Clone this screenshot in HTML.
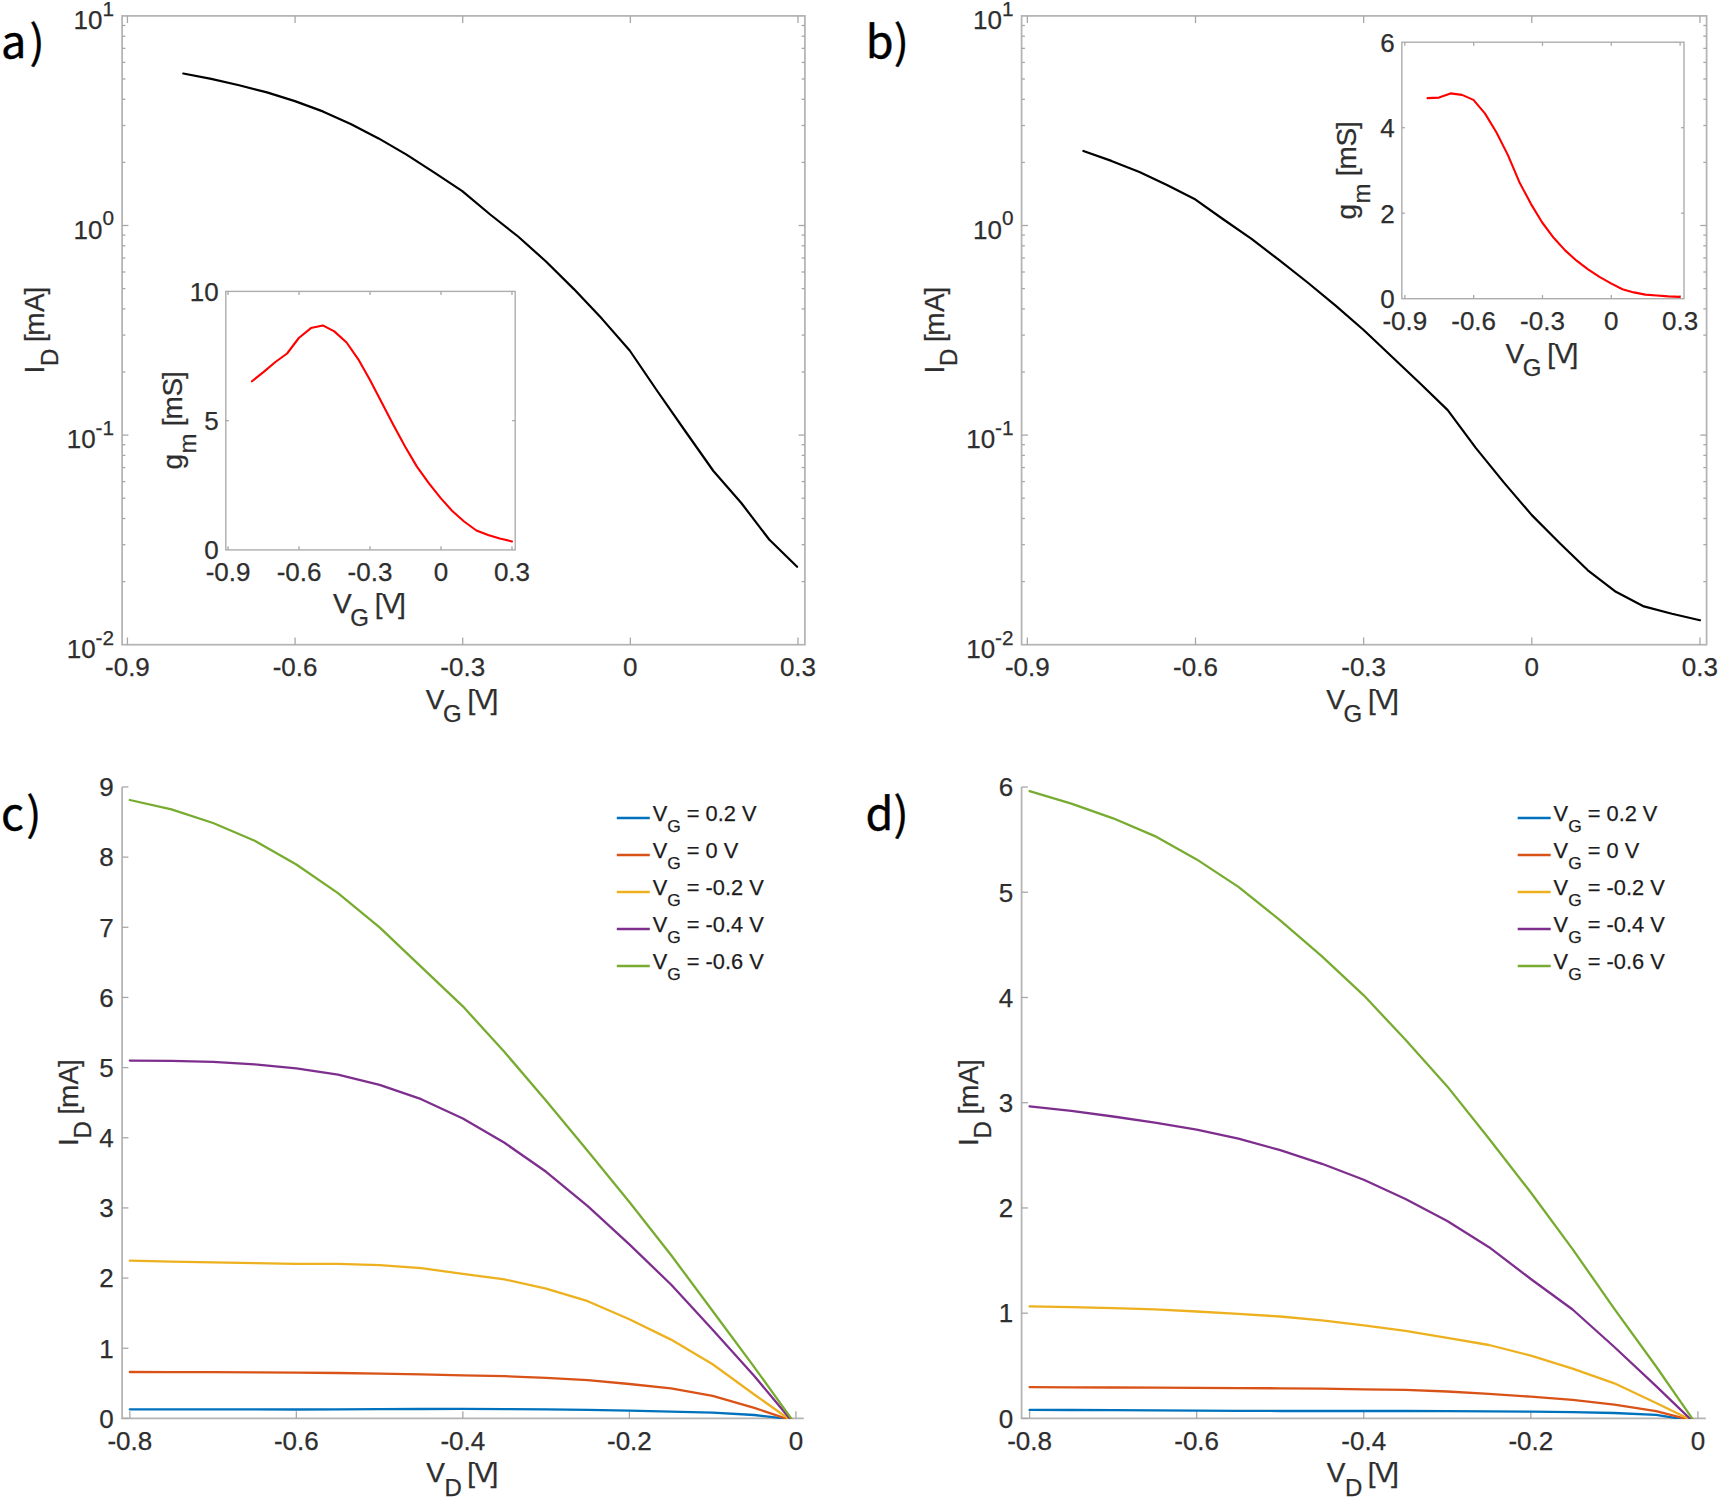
<!DOCTYPE html>
<html lang="en"><head><meta charset="utf-8"><title>Figure</title>
<style>html,body{margin:0;padding:0;background:#fff}svg{display:block}</style></head>
<body>
<svg width="1720" height="1498" viewBox="0 0 1720 1498" font-family='"Liberation Sans", sans-serif'>
<style>text{stroke:#2e2e2e;stroke-width:0.25px}text.pl{stroke:#000;stroke-width:0.4px}</style>
<rect width="1720" height="1498" fill="#fff"/>
<rect x="122.1" y="15.9" width="682.8" height="628.8" fill="none" stroke="#b4b4b4" stroke-width="1.75"/>
<line x1="122.1" y1="162.4" x2="125.4" y2="162.4" stroke="#a8a8a8" stroke-width="1.3"/>
<line x1="804.9" y1="162.4" x2="801.6" y2="162.4" stroke="#a8a8a8" stroke-width="1.3"/>
<line x1="122.1" y1="125.5" x2="125.4" y2="125.5" stroke="#a8a8a8" stroke-width="1.3"/>
<line x1="804.9" y1="125.5" x2="801.6" y2="125.5" stroke="#a8a8a8" stroke-width="1.3"/>
<line x1="122.1" y1="99.31" x2="125.4" y2="99.31" stroke="#a8a8a8" stroke-width="1.3"/>
<line x1="804.9" y1="99.31" x2="801.6" y2="99.31" stroke="#a8a8a8" stroke-width="1.3"/>
<line x1="122.1" y1="79" x2="125.4" y2="79" stroke="#a8a8a8" stroke-width="1.3"/>
<line x1="804.9" y1="79" x2="801.6" y2="79" stroke="#a8a8a8" stroke-width="1.3"/>
<line x1="122.1" y1="62.4" x2="125.4" y2="62.4" stroke="#a8a8a8" stroke-width="1.3"/>
<line x1="804.9" y1="62.4" x2="801.6" y2="62.4" stroke="#a8a8a8" stroke-width="1.3"/>
<line x1="122.1" y1="48.37" x2="125.4" y2="48.37" stroke="#a8a8a8" stroke-width="1.3"/>
<line x1="804.9" y1="48.37" x2="801.6" y2="48.37" stroke="#a8a8a8" stroke-width="1.3"/>
<line x1="122.1" y1="36.21" x2="125.4" y2="36.21" stroke="#a8a8a8" stroke-width="1.3"/>
<line x1="804.9" y1="36.21" x2="801.6" y2="36.21" stroke="#a8a8a8" stroke-width="1.3"/>
<line x1="122.1" y1="25.49" x2="125.4" y2="25.49" stroke="#a8a8a8" stroke-width="1.3"/>
<line x1="804.9" y1="25.49" x2="801.6" y2="25.49" stroke="#a8a8a8" stroke-width="1.3"/>
<line x1="122.1" y1="225.5" x2="128.4" y2="225.5" stroke="#a8a8a8" stroke-width="1.3"/>
<line x1="804.9" y1="225.5" x2="798.6" y2="225.5" stroke="#a8a8a8" stroke-width="1.3"/>
<line x1="122.1" y1="372" x2="125.4" y2="372" stroke="#a8a8a8" stroke-width="1.3"/>
<line x1="804.9" y1="372" x2="801.6" y2="372" stroke="#a8a8a8" stroke-width="1.3"/>
<line x1="122.1" y1="335.1" x2="125.4" y2="335.1" stroke="#a8a8a8" stroke-width="1.3"/>
<line x1="804.9" y1="335.1" x2="801.6" y2="335.1" stroke="#a8a8a8" stroke-width="1.3"/>
<line x1="122.1" y1="308.91" x2="125.4" y2="308.91" stroke="#a8a8a8" stroke-width="1.3"/>
<line x1="804.9" y1="308.91" x2="801.6" y2="308.91" stroke="#a8a8a8" stroke-width="1.3"/>
<line x1="122.1" y1="288.6" x2="125.4" y2="288.6" stroke="#a8a8a8" stroke-width="1.3"/>
<line x1="804.9" y1="288.6" x2="801.6" y2="288.6" stroke="#a8a8a8" stroke-width="1.3"/>
<line x1="122.1" y1="272" x2="125.4" y2="272" stroke="#a8a8a8" stroke-width="1.3"/>
<line x1="804.9" y1="272" x2="801.6" y2="272" stroke="#a8a8a8" stroke-width="1.3"/>
<line x1="122.1" y1="257.97" x2="125.4" y2="257.97" stroke="#a8a8a8" stroke-width="1.3"/>
<line x1="804.9" y1="257.97" x2="801.6" y2="257.97" stroke="#a8a8a8" stroke-width="1.3"/>
<line x1="122.1" y1="245.81" x2="125.4" y2="245.81" stroke="#a8a8a8" stroke-width="1.3"/>
<line x1="804.9" y1="245.81" x2="801.6" y2="245.81" stroke="#a8a8a8" stroke-width="1.3"/>
<line x1="122.1" y1="235.09" x2="125.4" y2="235.09" stroke="#a8a8a8" stroke-width="1.3"/>
<line x1="804.9" y1="235.09" x2="801.6" y2="235.09" stroke="#a8a8a8" stroke-width="1.3"/>
<line x1="122.1" y1="435.1" x2="128.4" y2="435.1" stroke="#a8a8a8" stroke-width="1.3"/>
<line x1="804.9" y1="435.1" x2="798.6" y2="435.1" stroke="#a8a8a8" stroke-width="1.3"/>
<line x1="122.1" y1="581.6" x2="125.4" y2="581.6" stroke="#a8a8a8" stroke-width="1.3"/>
<line x1="804.9" y1="581.6" x2="801.6" y2="581.6" stroke="#a8a8a8" stroke-width="1.3"/>
<line x1="122.1" y1="544.7" x2="125.4" y2="544.7" stroke="#a8a8a8" stroke-width="1.3"/>
<line x1="804.9" y1="544.7" x2="801.6" y2="544.7" stroke="#a8a8a8" stroke-width="1.3"/>
<line x1="122.1" y1="518.51" x2="125.4" y2="518.51" stroke="#a8a8a8" stroke-width="1.3"/>
<line x1="804.9" y1="518.51" x2="801.6" y2="518.51" stroke="#a8a8a8" stroke-width="1.3"/>
<line x1="122.1" y1="498.2" x2="125.4" y2="498.2" stroke="#a8a8a8" stroke-width="1.3"/>
<line x1="804.9" y1="498.2" x2="801.6" y2="498.2" stroke="#a8a8a8" stroke-width="1.3"/>
<line x1="122.1" y1="481.6" x2="125.4" y2="481.6" stroke="#a8a8a8" stroke-width="1.3"/>
<line x1="804.9" y1="481.6" x2="801.6" y2="481.6" stroke="#a8a8a8" stroke-width="1.3"/>
<line x1="122.1" y1="467.57" x2="125.4" y2="467.57" stroke="#a8a8a8" stroke-width="1.3"/>
<line x1="804.9" y1="467.57" x2="801.6" y2="467.57" stroke="#a8a8a8" stroke-width="1.3"/>
<line x1="122.1" y1="455.41" x2="125.4" y2="455.41" stroke="#a8a8a8" stroke-width="1.3"/>
<line x1="804.9" y1="455.41" x2="801.6" y2="455.41" stroke="#a8a8a8" stroke-width="1.3"/>
<line x1="122.1" y1="444.69" x2="125.4" y2="444.69" stroke="#a8a8a8" stroke-width="1.3"/>
<line x1="804.9" y1="444.69" x2="801.6" y2="444.69" stroke="#a8a8a8" stroke-width="1.3"/>
<line x1="127.43" y1="644.7" x2="127.43" y2="637.5" stroke="#a8a8a8" stroke-width="1.3"/>
<line x1="127.43" y1="15.9" x2="127.43" y2="23.1" stroke="#a8a8a8" stroke-width="1.3"/>
<text x="127.43" y="676" font-size="26" text-anchor="middle" fill="#2e2e2e">-0.9</text>
<line x1="295.07" y1="644.7" x2="295.07" y2="637.5" stroke="#a8a8a8" stroke-width="1.3"/>
<line x1="295.07" y1="15.9" x2="295.07" y2="23.1" stroke="#a8a8a8" stroke-width="1.3"/>
<text x="295.07" y="676" font-size="26" text-anchor="middle" fill="#2e2e2e">-0.6</text>
<line x1="462.71" y1="644.7" x2="462.71" y2="637.5" stroke="#a8a8a8" stroke-width="1.3"/>
<line x1="462.71" y1="15.9" x2="462.71" y2="23.1" stroke="#a8a8a8" stroke-width="1.3"/>
<text x="462.71" y="676" font-size="26" text-anchor="middle" fill="#2e2e2e">-0.3</text>
<line x1="630.35" y1="644.7" x2="630.35" y2="637.5" stroke="#a8a8a8" stroke-width="1.3"/>
<line x1="630.35" y1="15.9" x2="630.35" y2="23.1" stroke="#a8a8a8" stroke-width="1.3"/>
<text x="630.35" y="676" font-size="26" text-anchor="middle" fill="#2e2e2e">0</text>
<line x1="797.99" y1="644.7" x2="797.99" y2="637.5" stroke="#a8a8a8" stroke-width="1.3"/>
<line x1="797.99" y1="15.9" x2="797.99" y2="23.1" stroke="#a8a8a8" stroke-width="1.3"/>
<text x="797.99" y="676" font-size="26" text-anchor="middle" fill="#2e2e2e">0.3</text>
<text x="102.53" y="29" font-size="26" text-anchor="end" fill="#2e2e2e">10</text>
<text x="102.53" y="15.8" font-size="20.8" text-anchor="start" fill="#2e2e2e">1</text>
<text x="102.53" y="238.6" font-size="26" text-anchor="end" fill="#2e2e2e">10</text>
<text x="102.53" y="225.4" font-size="20.8" text-anchor="start" fill="#2e2e2e">0</text>
<text x="95.6" y="448.2" font-size="26" text-anchor="end" fill="#2e2e2e">10</text>
<text x="95.6" y="435" font-size="20.8" text-anchor="start" fill="#2e2e2e">-1</text>
<text x="95.6" y="657.8" font-size="26" text-anchor="end" fill="#2e2e2e">10</text>
<text x="95.6" y="644.6" font-size="20.8" text-anchor="start" fill="#2e2e2e">-2</text>
<polyline fill="none" stroke="#000" stroke-width="2.2" stroke-linejoin="round" stroke-linecap="round" points="183.25,73.5 211.2,78.9 239.1,85.2 267,92.4 294.9,101.1 322.8,111.4 350.7,124 378.6,138.4 406.5,154.6 434.4,172.7 462.3,191.2 490.2,214.5 518.1,236.5 546,261.5 573.9,289.1 601.8,318.6 629.7,350.5 657.6,391.5 685.5,431.5 713.4,471 741.3,503 769.2,539.5 797.1,566.8"/>
<rect x="1021.6" y="15.9" width="685" height="628.8" fill="none" stroke="#b4b4b4" stroke-width="1.75"/>
<line x1="1021.6" y1="162.4" x2="1024.9" y2="162.4" stroke="#a8a8a8" stroke-width="1.3"/>
<line x1="1706.6" y1="162.4" x2="1703.3" y2="162.4" stroke="#a8a8a8" stroke-width="1.3"/>
<line x1="1021.6" y1="125.5" x2="1024.9" y2="125.5" stroke="#a8a8a8" stroke-width="1.3"/>
<line x1="1706.6" y1="125.5" x2="1703.3" y2="125.5" stroke="#a8a8a8" stroke-width="1.3"/>
<line x1="1021.6" y1="99.31" x2="1024.9" y2="99.31" stroke="#a8a8a8" stroke-width="1.3"/>
<line x1="1706.6" y1="99.31" x2="1703.3" y2="99.31" stroke="#a8a8a8" stroke-width="1.3"/>
<line x1="1021.6" y1="79" x2="1024.9" y2="79" stroke="#a8a8a8" stroke-width="1.3"/>
<line x1="1706.6" y1="79" x2="1703.3" y2="79" stroke="#a8a8a8" stroke-width="1.3"/>
<line x1="1021.6" y1="62.4" x2="1024.9" y2="62.4" stroke="#a8a8a8" stroke-width="1.3"/>
<line x1="1706.6" y1="62.4" x2="1703.3" y2="62.4" stroke="#a8a8a8" stroke-width="1.3"/>
<line x1="1021.6" y1="48.37" x2="1024.9" y2="48.37" stroke="#a8a8a8" stroke-width="1.3"/>
<line x1="1706.6" y1="48.37" x2="1703.3" y2="48.37" stroke="#a8a8a8" stroke-width="1.3"/>
<line x1="1021.6" y1="36.21" x2="1024.9" y2="36.21" stroke="#a8a8a8" stroke-width="1.3"/>
<line x1="1706.6" y1="36.21" x2="1703.3" y2="36.21" stroke="#a8a8a8" stroke-width="1.3"/>
<line x1="1021.6" y1="25.49" x2="1024.9" y2="25.49" stroke="#a8a8a8" stroke-width="1.3"/>
<line x1="1706.6" y1="25.49" x2="1703.3" y2="25.49" stroke="#a8a8a8" stroke-width="1.3"/>
<line x1="1021.6" y1="225.5" x2="1027.9" y2="225.5" stroke="#a8a8a8" stroke-width="1.3"/>
<line x1="1706.6" y1="225.5" x2="1700.3" y2="225.5" stroke="#a8a8a8" stroke-width="1.3"/>
<line x1="1021.6" y1="372" x2="1024.9" y2="372" stroke="#a8a8a8" stroke-width="1.3"/>
<line x1="1706.6" y1="372" x2="1703.3" y2="372" stroke="#a8a8a8" stroke-width="1.3"/>
<line x1="1021.6" y1="335.1" x2="1024.9" y2="335.1" stroke="#a8a8a8" stroke-width="1.3"/>
<line x1="1706.6" y1="335.1" x2="1703.3" y2="335.1" stroke="#a8a8a8" stroke-width="1.3"/>
<line x1="1021.6" y1="308.91" x2="1024.9" y2="308.91" stroke="#a8a8a8" stroke-width="1.3"/>
<line x1="1706.6" y1="308.91" x2="1703.3" y2="308.91" stroke="#a8a8a8" stroke-width="1.3"/>
<line x1="1021.6" y1="288.6" x2="1024.9" y2="288.6" stroke="#a8a8a8" stroke-width="1.3"/>
<line x1="1706.6" y1="288.6" x2="1703.3" y2="288.6" stroke="#a8a8a8" stroke-width="1.3"/>
<line x1="1021.6" y1="272" x2="1024.9" y2="272" stroke="#a8a8a8" stroke-width="1.3"/>
<line x1="1706.6" y1="272" x2="1703.3" y2="272" stroke="#a8a8a8" stroke-width="1.3"/>
<line x1="1021.6" y1="257.97" x2="1024.9" y2="257.97" stroke="#a8a8a8" stroke-width="1.3"/>
<line x1="1706.6" y1="257.97" x2="1703.3" y2="257.97" stroke="#a8a8a8" stroke-width="1.3"/>
<line x1="1021.6" y1="245.81" x2="1024.9" y2="245.81" stroke="#a8a8a8" stroke-width="1.3"/>
<line x1="1706.6" y1="245.81" x2="1703.3" y2="245.81" stroke="#a8a8a8" stroke-width="1.3"/>
<line x1="1021.6" y1="235.09" x2="1024.9" y2="235.09" stroke="#a8a8a8" stroke-width="1.3"/>
<line x1="1706.6" y1="235.09" x2="1703.3" y2="235.09" stroke="#a8a8a8" stroke-width="1.3"/>
<line x1="1021.6" y1="435.1" x2="1027.9" y2="435.1" stroke="#a8a8a8" stroke-width="1.3"/>
<line x1="1706.6" y1="435.1" x2="1700.3" y2="435.1" stroke="#a8a8a8" stroke-width="1.3"/>
<line x1="1021.6" y1="581.6" x2="1024.9" y2="581.6" stroke="#a8a8a8" stroke-width="1.3"/>
<line x1="1706.6" y1="581.6" x2="1703.3" y2="581.6" stroke="#a8a8a8" stroke-width="1.3"/>
<line x1="1021.6" y1="544.7" x2="1024.9" y2="544.7" stroke="#a8a8a8" stroke-width="1.3"/>
<line x1="1706.6" y1="544.7" x2="1703.3" y2="544.7" stroke="#a8a8a8" stroke-width="1.3"/>
<line x1="1021.6" y1="518.51" x2="1024.9" y2="518.51" stroke="#a8a8a8" stroke-width="1.3"/>
<line x1="1706.6" y1="518.51" x2="1703.3" y2="518.51" stroke="#a8a8a8" stroke-width="1.3"/>
<line x1="1021.6" y1="498.2" x2="1024.9" y2="498.2" stroke="#a8a8a8" stroke-width="1.3"/>
<line x1="1706.6" y1="498.2" x2="1703.3" y2="498.2" stroke="#a8a8a8" stroke-width="1.3"/>
<line x1="1021.6" y1="481.6" x2="1024.9" y2="481.6" stroke="#a8a8a8" stroke-width="1.3"/>
<line x1="1706.6" y1="481.6" x2="1703.3" y2="481.6" stroke="#a8a8a8" stroke-width="1.3"/>
<line x1="1021.6" y1="467.57" x2="1024.9" y2="467.57" stroke="#a8a8a8" stroke-width="1.3"/>
<line x1="1706.6" y1="467.57" x2="1703.3" y2="467.57" stroke="#a8a8a8" stroke-width="1.3"/>
<line x1="1021.6" y1="455.41" x2="1024.9" y2="455.41" stroke="#a8a8a8" stroke-width="1.3"/>
<line x1="1706.6" y1="455.41" x2="1703.3" y2="455.41" stroke="#a8a8a8" stroke-width="1.3"/>
<line x1="1021.6" y1="444.69" x2="1024.9" y2="444.69" stroke="#a8a8a8" stroke-width="1.3"/>
<line x1="1706.6" y1="444.69" x2="1703.3" y2="444.69" stroke="#a8a8a8" stroke-width="1.3"/>
<line x1="1027.35" y1="644.7" x2="1027.35" y2="637.5" stroke="#a8a8a8" stroke-width="1.3"/>
<line x1="1027.35" y1="15.9" x2="1027.35" y2="23.1" stroke="#a8a8a8" stroke-width="1.3"/>
<text x="1027.35" y="676" font-size="26" text-anchor="middle" fill="#2e2e2e">-0.9</text>
<line x1="1195.5" y1="644.7" x2="1195.5" y2="637.5" stroke="#a8a8a8" stroke-width="1.3"/>
<line x1="1195.5" y1="15.9" x2="1195.5" y2="23.1" stroke="#a8a8a8" stroke-width="1.3"/>
<text x="1195.5" y="676" font-size="26" text-anchor="middle" fill="#2e2e2e">-0.6</text>
<line x1="1363.65" y1="644.7" x2="1363.65" y2="637.5" stroke="#a8a8a8" stroke-width="1.3"/>
<line x1="1363.65" y1="15.9" x2="1363.65" y2="23.1" stroke="#a8a8a8" stroke-width="1.3"/>
<text x="1363.65" y="676" font-size="26" text-anchor="middle" fill="#2e2e2e">-0.3</text>
<line x1="1531.8" y1="644.7" x2="1531.8" y2="637.5" stroke="#a8a8a8" stroke-width="1.3"/>
<line x1="1531.8" y1="15.9" x2="1531.8" y2="23.1" stroke="#a8a8a8" stroke-width="1.3"/>
<text x="1531.8" y="676" font-size="26" text-anchor="middle" fill="#2e2e2e">0</text>
<line x1="1699.95" y1="644.7" x2="1699.95" y2="637.5" stroke="#a8a8a8" stroke-width="1.3"/>
<line x1="1699.95" y1="15.9" x2="1699.95" y2="23.1" stroke="#a8a8a8" stroke-width="1.3"/>
<text x="1699.95" y="676" font-size="26" text-anchor="middle" fill="#2e2e2e">0.3</text>
<text x="1002.03" y="29" font-size="26" text-anchor="end" fill="#2e2e2e">10</text>
<text x="1002.03" y="15.8" font-size="20.8" text-anchor="start" fill="#2e2e2e">1</text>
<text x="1002.03" y="238.6" font-size="26" text-anchor="end" fill="#2e2e2e">10</text>
<text x="1002.03" y="225.4" font-size="20.8" text-anchor="start" fill="#2e2e2e">0</text>
<text x="995.1" y="448.2" font-size="26" text-anchor="end" fill="#2e2e2e">10</text>
<text x="995.1" y="435" font-size="20.8" text-anchor="start" fill="#2e2e2e">-1</text>
<text x="995.1" y="657.8" font-size="26" text-anchor="end" fill="#2e2e2e">10</text>
<text x="995.1" y="644.6" font-size="20.8" text-anchor="start" fill="#2e2e2e">-2</text>
<polyline fill="none" stroke="#000" stroke-width="2.2" stroke-linejoin="round" stroke-linecap="round" points="1083.4,151 1111.42,160.9 1139.45,172 1167.47,185.2 1195.5,199.6 1223.52,219.5 1251.55,238.9 1279.58,260.4 1307.6,282.5 1335.62,305.7 1363.65,330 1391.67,356.5 1419.7,383 1447.72,410.1 1475.75,447.85 1503.77,482.4 1531.8,515.1 1559.83,543.2 1587.85,570.3 1615.88,591.8 1643.9,606.4 1671.92,613.8 1699.95,620.2"/>
<rect x="225.8" y="291.4" width="289.4" height="258.5" fill="#fff" stroke="#adadad" stroke-width="1.4"/>
<line x1="228.06" y1="549.9" x2="228.06" y2="546.3" stroke="#a8a8a8" stroke-width="1.3"/>
<line x1="228.06" y1="291.4" x2="228.06" y2="295" stroke="#a8a8a8" stroke-width="1.3"/>
<text x="228.06" y="581.1" font-size="26" text-anchor="middle" fill="#2e2e2e">-0.9</text>
<line x1="299.04" y1="549.9" x2="299.04" y2="546.3" stroke="#a8a8a8" stroke-width="1.3"/>
<line x1="299.04" y1="291.4" x2="299.04" y2="295" stroke="#a8a8a8" stroke-width="1.3"/>
<text x="299.04" y="581.1" font-size="26" text-anchor="middle" fill="#2e2e2e">-0.6</text>
<line x1="370.02" y1="549.9" x2="370.02" y2="546.3" stroke="#a8a8a8" stroke-width="1.3"/>
<line x1="370.02" y1="291.4" x2="370.02" y2="295" stroke="#a8a8a8" stroke-width="1.3"/>
<text x="370.02" y="581.1" font-size="26" text-anchor="middle" fill="#2e2e2e">-0.3</text>
<line x1="441" y1="549.9" x2="441" y2="546.3" stroke="#a8a8a8" stroke-width="1.3"/>
<line x1="441" y1="291.4" x2="441" y2="295" stroke="#a8a8a8" stroke-width="1.3"/>
<text x="441" y="581.1" font-size="26" text-anchor="middle" fill="#2e2e2e">0</text>
<line x1="511.98" y1="549.9" x2="511.98" y2="546.3" stroke="#a8a8a8" stroke-width="1.3"/>
<line x1="511.98" y1="291.4" x2="511.98" y2="295" stroke="#a8a8a8" stroke-width="1.3"/>
<text x="511.98" y="581.1" font-size="26" text-anchor="middle" fill="#2e2e2e">0.3</text>
<text x="218.6" y="300.7" font-size="26" text-anchor="end" fill="#2e2e2e">10</text>
<line x1="225.8" y1="420.65" x2="228.8" y2="420.65" stroke="#a8a8a8" stroke-width="1.3"/>
<line x1="515.2" y1="420.65" x2="512.2" y2="420.65" stroke="#a8a8a8" stroke-width="1.3"/>
<text x="218.6" y="429.95" font-size="26" text-anchor="end" fill="#2e2e2e">5</text>
<text x="218.6" y="559.2" font-size="26" text-anchor="end" fill="#2e2e2e">0</text>
<polyline fill="none" stroke="#ff0000" stroke-width="2.1" stroke-linejoin="round" stroke-linecap="round" points="251.95,381.3 263.7,371.9 275.4,362 287.1,353.5 298.8,338 310.9,328.1 322.8,325.4 334.3,331.4 346.6,342.5 358.3,359.3 370,380 381.7,402.6 393.4,425.1 405.2,446.7 416.9,466.6 428.6,482.8 440.3,497.6 452,510.7 464.1,521.5 476.4,530.5 488.1,535 499.8,538.6 512,541.4"/>
<rect x="1401.85" y="42.2" width="282.15" height="256.5" fill="#fff" stroke="#adadad" stroke-width="1.4"/>
<line x1="1404.84" y1="298.7" x2="1404.84" y2="295.1" stroke="#a8a8a8" stroke-width="1.3"/>
<line x1="1404.84" y1="42.2" x2="1404.84" y2="45.8" stroke="#a8a8a8" stroke-width="1.3"/>
<text x="1404.84" y="329.9" font-size="26" text-anchor="middle" fill="#2e2e2e">-0.9</text>
<line x1="1473.66" y1="298.7" x2="1473.66" y2="295.1" stroke="#a8a8a8" stroke-width="1.3"/>
<line x1="1473.66" y1="42.2" x2="1473.66" y2="45.8" stroke="#a8a8a8" stroke-width="1.3"/>
<text x="1473.66" y="329.9" font-size="26" text-anchor="middle" fill="#2e2e2e">-0.6</text>
<line x1="1542.48" y1="298.7" x2="1542.48" y2="295.1" stroke="#a8a8a8" stroke-width="1.3"/>
<line x1="1542.48" y1="42.2" x2="1542.48" y2="45.8" stroke="#a8a8a8" stroke-width="1.3"/>
<text x="1542.48" y="329.9" font-size="26" text-anchor="middle" fill="#2e2e2e">-0.3</text>
<line x1="1611.3" y1="298.7" x2="1611.3" y2="295.1" stroke="#a8a8a8" stroke-width="1.3"/>
<line x1="1611.3" y1="42.2" x2="1611.3" y2="45.8" stroke="#a8a8a8" stroke-width="1.3"/>
<text x="1611.3" y="329.9" font-size="26" text-anchor="middle" fill="#2e2e2e">0</text>
<line x1="1680.12" y1="298.7" x2="1680.12" y2="295.1" stroke="#a8a8a8" stroke-width="1.3"/>
<line x1="1680.12" y1="42.2" x2="1680.12" y2="45.8" stroke="#a8a8a8" stroke-width="1.3"/>
<text x="1680.12" y="329.9" font-size="26" text-anchor="middle" fill="#2e2e2e">0.3</text>
<text x="1394.65" y="51.5" font-size="26" text-anchor="end" fill="#2e2e2e">6</text>
<line x1="1401.85" y1="127.7" x2="1404.85" y2="127.7" stroke="#a8a8a8" stroke-width="1.3"/>
<line x1="1684" y1="127.7" x2="1681" y2="127.7" stroke="#a8a8a8" stroke-width="1.3"/>
<text x="1394.65" y="137" font-size="26" text-anchor="end" fill="#2e2e2e">4</text>
<line x1="1401.85" y1="213.2" x2="1404.85" y2="213.2" stroke="#a8a8a8" stroke-width="1.3"/>
<line x1="1684" y1="213.2" x2="1681" y2="213.2" stroke="#a8a8a8" stroke-width="1.3"/>
<text x="1394.65" y="222.5" font-size="26" text-anchor="end" fill="#2e2e2e">2</text>
<text x="1394.65" y="308" font-size="26" text-anchor="end" fill="#2e2e2e">0</text>
<polyline fill="none" stroke="#ff0000" stroke-width="2.1" stroke-linejoin="round" stroke-linecap="round" points="1427.6,98.1 1439.06,97.6 1450.52,93.4 1461.98,94.9 1473.44,99.9 1484.9,113.4 1496.36,132.3 1507.82,154.9 1519.28,181.9 1530.74,203.6 1542.2,222.5 1553.66,237.8 1565.12,250.4 1576.58,260.7 1588.04,269.4 1599.5,276.9 1610.96,283.4 1622.42,289.2 1633.88,292.4 1645.34,294.6 1656.8,295.5 1668.26,296.4 1679.72,296.9"/>
<line x1="122.1" y1="787" x2="122.1" y2="1418.4" stroke="#b4b4b4" stroke-width="1.75"/>
<line x1="121.22" y1="1418.4" x2="803.8" y2="1418.4" stroke="#b4b4b4" stroke-width="1.75"/>
<line x1="129.82" y1="1418.4" x2="129.82" y2="1411.2" stroke="#a8a8a8" stroke-width="1.3"/>
<text x="129.82" y="1449.6" font-size="26" text-anchor="middle" fill="#2e2e2e">-0.8</text>
<line x1="296.34" y1="1418.4" x2="296.34" y2="1411.2" stroke="#a8a8a8" stroke-width="1.3"/>
<text x="296.34" y="1449.6" font-size="26" text-anchor="middle" fill="#2e2e2e">-0.6</text>
<line x1="462.86" y1="1418.4" x2="462.86" y2="1411.2" stroke="#a8a8a8" stroke-width="1.3"/>
<text x="462.86" y="1449.6" font-size="26" text-anchor="middle" fill="#2e2e2e">-0.4</text>
<line x1="629.38" y1="1418.4" x2="629.38" y2="1411.2" stroke="#a8a8a8" stroke-width="1.3"/>
<text x="629.38" y="1449.6" font-size="26" text-anchor="middle" fill="#2e2e2e">-0.2</text>
<line x1="795.9" y1="1418.4" x2="795.9" y2="1411.2" stroke="#a8a8a8" stroke-width="1.3"/>
<text x="795.9" y="1449.6" font-size="26" text-anchor="middle" fill="#2e2e2e">0</text>
<line x1="122.1" y1="1418.4" x2="128.4" y2="1418.4" stroke="#a8a8a8" stroke-width="1.3"/>
<text x="113.6" y="1427.7" font-size="26" text-anchor="end" fill="#2e2e2e">0</text>
<line x1="122.1" y1="1348.24" x2="128.4" y2="1348.24" stroke="#a8a8a8" stroke-width="1.3"/>
<text x="113.6" y="1357.54" font-size="26" text-anchor="end" fill="#2e2e2e">1</text>
<line x1="122.1" y1="1278.08" x2="128.4" y2="1278.08" stroke="#a8a8a8" stroke-width="1.3"/>
<text x="113.6" y="1287.38" font-size="26" text-anchor="end" fill="#2e2e2e">2</text>
<line x1="122.1" y1="1207.92" x2="128.4" y2="1207.92" stroke="#a8a8a8" stroke-width="1.3"/>
<text x="113.6" y="1217.22" font-size="26" text-anchor="end" fill="#2e2e2e">3</text>
<line x1="122.1" y1="1137.76" x2="128.4" y2="1137.76" stroke="#a8a8a8" stroke-width="1.3"/>
<text x="113.6" y="1147.06" font-size="26" text-anchor="end" fill="#2e2e2e">4</text>
<line x1="122.1" y1="1067.6" x2="128.4" y2="1067.6" stroke="#a8a8a8" stroke-width="1.3"/>
<text x="113.6" y="1076.9" font-size="26" text-anchor="end" fill="#2e2e2e">5</text>
<line x1="122.1" y1="997.44" x2="128.4" y2="997.44" stroke="#a8a8a8" stroke-width="1.3"/>
<text x="113.6" y="1006.74" font-size="26" text-anchor="end" fill="#2e2e2e">6</text>
<line x1="122.1" y1="927.28" x2="128.4" y2="927.28" stroke="#a8a8a8" stroke-width="1.3"/>
<text x="113.6" y="936.58" font-size="26" text-anchor="end" fill="#2e2e2e">7</text>
<line x1="122.1" y1="857.12" x2="128.4" y2="857.12" stroke="#a8a8a8" stroke-width="1.3"/>
<text x="113.6" y="866.42" font-size="26" text-anchor="end" fill="#2e2e2e">8</text>
<line x1="122.1" y1="786.96" x2="128.4" y2="786.96" stroke="#a8a8a8" stroke-width="1.3"/>
<text x="113.6" y="796.26" font-size="26" text-anchor="end" fill="#2e2e2e">9</text>
<clipPath id="clip122"><rect x="122.1" y="777" width="691.7" height="642"/></clipPath>
<polyline fill="none" stroke="#0072bd" stroke-width="2.3" stroke-linejoin="round" stroke-linecap="round" clip-path="url(#clip122)" points="129.82,1409.3 171.45,1409.3 213.08,1409.4 254.71,1409.4 296.34,1409.5 337.97,1409.3 379.6,1409.1 421.23,1409 462.86,1408.9 504.49,1409.1 546.12,1409.4 587.75,1409.8 629.38,1410.7 671.01,1411.7 712.64,1412.6 754.27,1415 787.93,1418.8"/>
<polyline fill="none" stroke="#d95319" stroke-width="2.3" stroke-linejoin="round" stroke-linecap="round" clip-path="url(#clip122)" points="129.82,1372 171.45,1372.1 213.08,1372.2 254.71,1372.4 296.34,1372.6 337.97,1373 379.6,1373.6 421.23,1374.3 462.86,1375.3 504.49,1376.2 546.12,1377.9 587.75,1380.2 629.38,1384 671.01,1388.3 712.64,1395.8 754.27,1407.9 786.92,1418.8"/>
<polyline fill="none" stroke="#edb120" stroke-width="2.3" stroke-linejoin="round" stroke-linecap="round" clip-path="url(#clip122)" points="129.82,1260.7 171.45,1261.7 213.08,1262.4 254.71,1263.2 296.34,1263.9 337.97,1263.9 379.6,1265.1 421.23,1268.1 462.86,1273.9 504.49,1279.4 546.12,1288.7 587.75,1301.2 629.38,1319.2 671.01,1339.6 712.64,1364.3 754.27,1394.5 788.56,1418.8"/>
<polyline fill="none" stroke="#7e2f8e" stroke-width="2.3" stroke-linejoin="round" stroke-linecap="round" clip-path="url(#clip122)" points="129.82,1060.6 171.45,1060.9 213.08,1061.9 254.71,1064.3 296.34,1068.4 337.97,1074.6 379.6,1084.9 421.23,1099.2 462.86,1118.5 504.49,1142.8 546.12,1171.8 587.75,1206.2 629.38,1244.4 671.01,1284.5 712.64,1329.7 754.27,1376 789.98,1418.8"/>
<polyline fill="none" stroke="#77ac30" stroke-width="2.3" stroke-linejoin="round" stroke-linecap="round" clip-path="url(#clip122)" points="129.82,800 171.45,809.3 213.08,823 254.71,840.7 296.34,864.5 337.97,893.1 379.6,927.3 421.23,966.8 462.86,1006.3 504.49,1052 546.12,1100.8 587.75,1151 629.38,1202 671.01,1255 712.64,1311 754.27,1367.1 791.51,1418.8"/>
<line x1="616.8" y1="818" x2="649.8" y2="818" stroke="#0072bd" stroke-width="2.3"/>
<text x="652.7" y="821.1" font-size="21.8" fill="#1a1a1a">V<tspan font-size="17.4" dy="11">G</tspan><tspan dy="-11"> = 0.2 V</tspan></text>
<line x1="616.8" y1="855" x2="649.8" y2="855" stroke="#d95319" stroke-width="2.3"/>
<text x="652.7" y="858.1" font-size="21.8" fill="#1a1a1a">V<tspan font-size="17.4" dy="11">G</tspan><tspan dy="-11"> = 0 V</tspan></text>
<line x1="616.8" y1="892" x2="649.8" y2="892" stroke="#edb120" stroke-width="2.3"/>
<text x="652.7" y="895.1" font-size="21.8" fill="#1a1a1a">V<tspan font-size="17.4" dy="11">G</tspan><tspan dy="-11"> = -0.2 V</tspan></text>
<line x1="616.8" y1="929" x2="649.8" y2="929" stroke="#7e2f8e" stroke-width="2.3"/>
<text x="652.7" y="932.1" font-size="21.8" fill="#1a1a1a">V<tspan font-size="17.4" dy="11">G</tspan><tspan dy="-11"> = -0.4 V</tspan></text>
<line x1="616.8" y1="966" x2="649.8" y2="966" stroke="#77ac30" stroke-width="2.3"/>
<text x="652.7" y="969.1" font-size="21.8" fill="#1a1a1a">V<tspan font-size="17.4" dy="11">G</tspan><tspan dy="-11"> = -0.6 V</tspan></text>
<line x1="1021.6" y1="787" x2="1021.6" y2="1418.4" stroke="#b4b4b4" stroke-width="1.75"/>
<line x1="1020.73" y1="1418.4" x2="1705.8" y2="1418.4" stroke="#b4b4b4" stroke-width="1.75"/>
<line x1="1029.58" y1="1418.4" x2="1029.58" y2="1411.2" stroke="#a8a8a8" stroke-width="1.3"/>
<text x="1029.58" y="1449.6" font-size="26" text-anchor="middle" fill="#2e2e2e">-0.8</text>
<line x1="1196.66" y1="1418.4" x2="1196.66" y2="1411.2" stroke="#a8a8a8" stroke-width="1.3"/>
<text x="1196.66" y="1449.6" font-size="26" text-anchor="middle" fill="#2e2e2e">-0.6</text>
<line x1="1363.74" y1="1418.4" x2="1363.74" y2="1411.2" stroke="#a8a8a8" stroke-width="1.3"/>
<text x="1363.74" y="1449.6" font-size="26" text-anchor="middle" fill="#2e2e2e">-0.4</text>
<line x1="1530.82" y1="1418.4" x2="1530.82" y2="1411.2" stroke="#a8a8a8" stroke-width="1.3"/>
<text x="1530.82" y="1449.6" font-size="26" text-anchor="middle" fill="#2e2e2e">-0.2</text>
<line x1="1697.9" y1="1418.4" x2="1697.9" y2="1411.2" stroke="#a8a8a8" stroke-width="1.3"/>
<text x="1697.9" y="1449.6" font-size="26" text-anchor="middle" fill="#2e2e2e">0</text>
<line x1="1021.6" y1="1418.4" x2="1027.9" y2="1418.4" stroke="#a8a8a8" stroke-width="1.3"/>
<text x="1013.1" y="1427.7" font-size="26" text-anchor="end" fill="#2e2e2e">0</text>
<line x1="1021.6" y1="1313.17" x2="1027.9" y2="1313.17" stroke="#a8a8a8" stroke-width="1.3"/>
<text x="1013.1" y="1322.47" font-size="26" text-anchor="end" fill="#2e2e2e">1</text>
<line x1="1021.6" y1="1207.94" x2="1027.9" y2="1207.94" stroke="#a8a8a8" stroke-width="1.3"/>
<text x="1013.1" y="1217.24" font-size="26" text-anchor="end" fill="#2e2e2e">2</text>
<line x1="1021.6" y1="1102.71" x2="1027.9" y2="1102.71" stroke="#a8a8a8" stroke-width="1.3"/>
<text x="1013.1" y="1112.01" font-size="26" text-anchor="end" fill="#2e2e2e">3</text>
<line x1="1021.6" y1="997.48" x2="1027.9" y2="997.48" stroke="#a8a8a8" stroke-width="1.3"/>
<text x="1013.1" y="1006.78" font-size="26" text-anchor="end" fill="#2e2e2e">4</text>
<line x1="1021.6" y1="892.25" x2="1027.9" y2="892.25" stroke="#a8a8a8" stroke-width="1.3"/>
<text x="1013.1" y="901.55" font-size="26" text-anchor="end" fill="#2e2e2e">5</text>
<line x1="1021.6" y1="787.02" x2="1027.9" y2="787.02" stroke="#a8a8a8" stroke-width="1.3"/>
<text x="1013.1" y="796.32" font-size="26" text-anchor="end" fill="#2e2e2e">6</text>
<clipPath id="clip1021"><rect x="1021.6" y="777" width="694.2" height="642"/></clipPath>
<polyline fill="none" stroke="#0072bd" stroke-width="2.3" stroke-linejoin="round" stroke-linecap="round" clip-path="url(#clip1021)" points="1029.58,1409.9 1071.35,1410 1113.12,1410.2 1154.89,1410.4 1196.66,1410.6 1238.43,1410.8 1280.2,1411 1321.97,1411 1363.74,1411 1405.51,1411 1447.28,1411.2 1489.05,1411.4 1530.82,1411.7 1572.59,1412.1 1614.36,1413 1656.13,1414.9 1681.19,1418.8"/>
<polyline fill="none" stroke="#d95319" stroke-width="2.3" stroke-linejoin="round" stroke-linecap="round" clip-path="url(#clip1021)" points="1029.58,1387.2 1071.35,1387.3 1113.12,1387.5 1154.89,1387.7 1196.66,1387.9 1238.43,1388.1 1280.2,1388.3 1321.97,1388.7 1363.74,1389.3 1405.51,1389.9 1447.28,1391.5 1489.05,1393.9 1530.82,1396.7 1572.59,1399.9 1614.36,1404.6 1656.13,1411.1 1685.91,1418.8"/>
<polyline fill="none" stroke="#edb120" stroke-width="2.3" stroke-linejoin="round" stroke-linecap="round" clip-path="url(#clip1021)" points="1029.58,1306.4 1071.35,1307.2 1113.12,1308.1 1154.89,1309.3 1196.66,1311.5 1238.43,1313.9 1280.2,1316.5 1321.97,1320.3 1363.74,1325.4 1405.51,1330.9 1447.28,1337.9 1489.05,1345 1530.82,1355.6 1572.59,1368.7 1614.36,1383.3 1656.13,1403 1688.64,1418.8"/>
<polyline fill="none" stroke="#7e2f8e" stroke-width="2.3" stroke-linejoin="round" stroke-linecap="round" clip-path="url(#clip1021)" points="1029.58,1106.3 1071.35,1110.9 1113.12,1116.5 1154.89,1122.7 1196.66,1129.6 1238.43,1138.6 1280.2,1150.2 1321.97,1163.8 1363.74,1179.8 1405.51,1199 1447.28,1221 1489.05,1247.2 1530.82,1279 1572.59,1309.5 1614.36,1347 1656.13,1386.2 1690.09,1418.8"/>
<polyline fill="none" stroke="#77ac30" stroke-width="2.3" stroke-linejoin="round" stroke-linecap="round" clip-path="url(#clip1021)" points="1029.58,791.2 1071.35,803.7 1113.12,818.3 1154.89,836.1 1196.66,859.4 1238.43,886.9 1280.2,920.3 1321.97,956.3 1363.74,995.3 1405.51,1039.8 1447.28,1086.4 1489.05,1138.8 1530.82,1192.5 1572.59,1249.1 1614.36,1308.9 1656.13,1366.5 1692.48,1418.8"/>
<line x1="1517.7" y1="818" x2="1550.7" y2="818" stroke="#0072bd" stroke-width="2.3"/>
<text x="1553.6" y="821.1" font-size="21.8" fill="#1a1a1a">V<tspan font-size="17.4" dy="11">G</tspan><tspan dy="-11"> = 0.2 V</tspan></text>
<line x1="1517.7" y1="855" x2="1550.7" y2="855" stroke="#d95319" stroke-width="2.3"/>
<text x="1553.6" y="858.1" font-size="21.8" fill="#1a1a1a">V<tspan font-size="17.4" dy="11">G</tspan><tspan dy="-11"> = 0 V</tspan></text>
<line x1="1517.7" y1="892" x2="1550.7" y2="892" stroke="#edb120" stroke-width="2.3"/>
<text x="1553.6" y="895.1" font-size="21.8" fill="#1a1a1a">V<tspan font-size="17.4" dy="11">G</tspan><tspan dy="-11"> = -0.2 V</tspan></text>
<line x1="1517.7" y1="929" x2="1550.7" y2="929" stroke="#7e2f8e" stroke-width="2.3"/>
<text x="1553.6" y="932.1" font-size="21.8" fill="#1a1a1a">V<tspan font-size="17.4" dy="11">G</tspan><tspan dy="-11"> = -0.4 V</tspan></text>
<line x1="1517.7" y1="966" x2="1550.7" y2="966" stroke="#77ac30" stroke-width="2.3"/>
<text x="1553.6" y="969.1" font-size="21.8" fill="#1a1a1a">V<tspan font-size="17.4" dy="11">G</tspan><tspan dy="-11"> = -0.6 V</tspan></text>
<text y="708.8" font-size="28" fill="#2e2e2e"><tspan x="425.7">V</tspan><tspan x="443" dy="13.4" font-size="24">G</tspan><tspan x="467.5 474.7 490.6" dy="-13.4">[V]</tspan></text>
<text y="708.8" font-size="28" fill="#2e2e2e"><tspan x="1326.2">V</tspan><tspan x="1343.5" dy="13.4" font-size="24">G</tspan><tspan x="1368 1375.2 1391.1" dy="-13.4">[V]</tspan></text>
<text y="1482.1" font-size="28" fill="#2e2e2e"><tspan x="426.2">V</tspan><tspan x="444.5" dy="13.4" font-size="24">D</tspan><tspan x="467.2 474.4 490.5" dy="-13.4">[V]</tspan></text>
<text y="1482.1" font-size="28" fill="#2e2e2e"><tspan x="1326.7">V</tspan><tspan x="1345" dy="13.4" font-size="24">D</tspan><tspan x="1367.7 1374.9 1391" dy="-13.4">[V]</tspan></text>
<text y="612.5" font-size="28" fill="#2e2e2e"><tspan x="333">V</tspan><tspan x="350.3" dy="13.4" font-size="24">G</tspan><tspan x="374.8 382 397.9" dy="-13.4">[V]</tspan></text>
<text y="362.5" font-size="28" fill="#2e2e2e"><tspan x="1505.5">V</tspan><tspan x="1522.8" dy="13.4" font-size="24">G</tspan><tspan x="1547.3 1554.5 1570.4" dy="-13.4">[V]</tspan></text>
<text transform="translate(44.3 373.6) rotate(-90)" font-size="28" fill="#2e2e2e"><tspan x="0">I</tspan><tspan x="7.6" dy="13.4" font-size="24">D</tspan><tspan x="31.6 37.9 61.5 79" dy="-13.4">[mA]</tspan></text>
<text transform="translate(943.8 373.6) rotate(-90)" font-size="28" fill="#2e2e2e"><tspan x="0">I</tspan><tspan x="7.6" dy="13.4" font-size="24">D</tspan><tspan x="31.6 37.9 61.5 79" dy="-13.4">[mA]</tspan></text>
<text transform="translate(77.8 1146) rotate(-90)" font-size="28" fill="#2e2e2e"><tspan x="0">I</tspan><tspan x="7.6" dy="13.4" font-size="24">D</tspan><tspan x="31.6 37.9 61.5 79" dy="-13.4">[mA]</tspan></text>
<text transform="translate(977.5 1146) rotate(-90)" font-size="28" fill="#2e2e2e"><tspan x="0">I</tspan><tspan x="7.6" dy="13.4" font-size="24">D</tspan><tspan x="31.6 37.9 61.5 79" dy="-13.4">[mA]</tspan></text>
<text transform="translate(182.2 469.6) rotate(-90)" font-size="28" fill="#2e2e2e"><tspan x="0">g</tspan><tspan x="16.1" dy="13.4" font-size="24">m</tspan><tspan x="43.25 50 73.1 90.7" dy="-13.4">[mS]</tspan></text>
<text transform="translate(1356.3 219.6) rotate(-90)" font-size="28" fill="#2e2e2e"><tspan x="0">g</tspan><tspan x="16.1" dy="13.4" font-size="24">m</tspan><tspan x="43.25 50 73.1 90.7" dy="-13.4">[mS]</tspan></text>
<text class="pl" y="57.8" font-size="45" fill="#000" font-family='"Noto Sans CJK SC", "Liberation Sans", sans-serif'><tspan x="0.9">a</tspan><tspan x="29.5">)</tspan></text>
<text class="pl" y="57.8" font-size="45" fill="#000" font-family='"Noto Sans CJK SC", "Liberation Sans", sans-serif'><tspan x="865.7">b</tspan><tspan x="893.7">)</tspan></text>
<text class="pl" y="830.4" font-size="45" fill="#000" font-family='"Noto Sans CJK SC", "Liberation Sans", sans-serif'><tspan x="0.9">c</tspan><tspan x="26.3">)</tspan></text>
<text class="pl" y="830.4" font-size="45" fill="#000" font-family='"Noto Sans CJK SC", "Liberation Sans", sans-serif'><tspan x="865.6">d</tspan><tspan x="893.6">)</tspan></text>
</svg>
</body></html>
